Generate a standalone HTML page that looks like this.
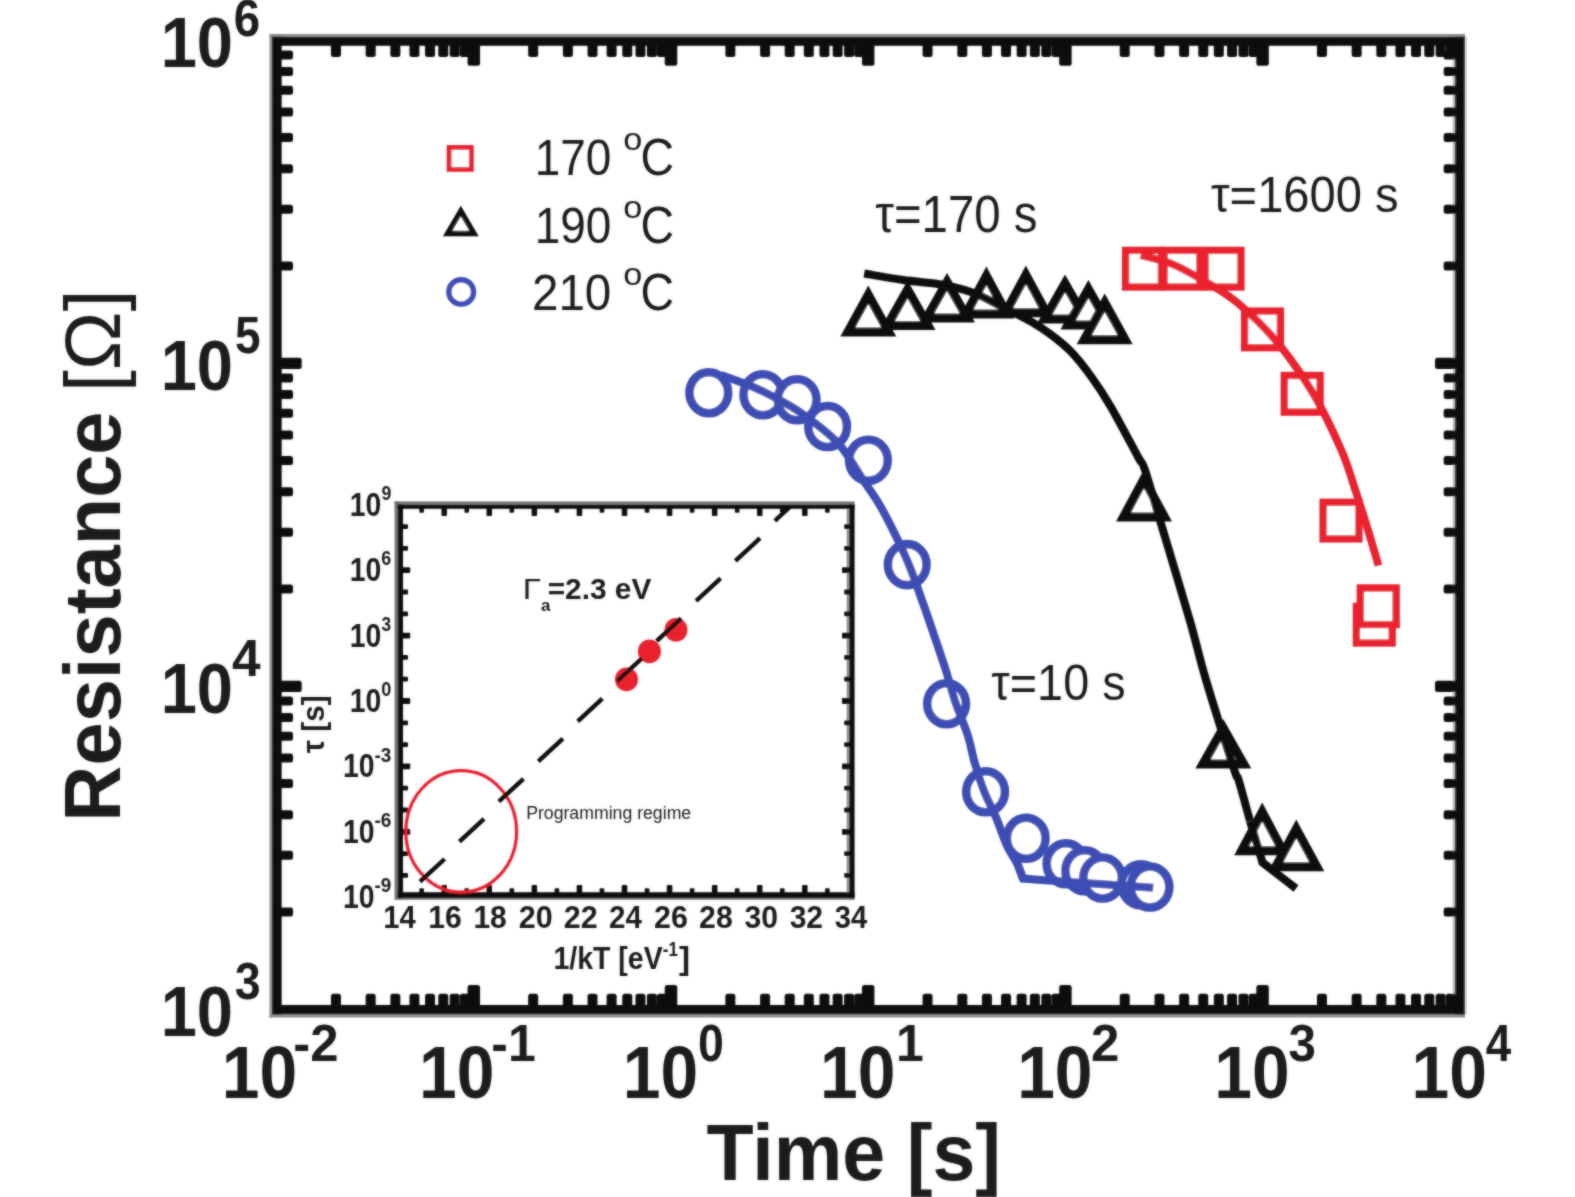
<!DOCTYPE html>
<html lang="en"><head><meta charset="utf-8"><title>Resistance vs time</title>
<style>html,body{margin:0;padding:0;background:#fff}svg{display:block}text{font-family:"Liberation Sans",Arial,Helvetica,sans-serif}</style></head><body>
<svg width="1575" height="1197" viewBox="0 0 1575 1197">
<rect x="0" y="0" width="1575" height="1197" fill="#ffffff"/>
<defs><filter id="soft" x="0" y="0" width="1575" height="1197" filterUnits="userSpaceOnUse"><feGaussianBlur in="SourceGraphic" stdDeviation="1" result="b"/><feComposite in="SourceGraphic" in2="b" operator="arithmetic" k1="0" k2="0.45" k3="0.55" k4="0"/></filter></defs>
<g filter="url(#soft)">
<g id="main-frame">
<rect x="269.5" y="34.2" width="2.5" height="983.3" fill="#8e8e92"/>
<rect x="269.5" y="34" width="1195.5" height="2.7" fill="#8e8e92"/>
<rect x="269.5" y="1014.5" width="1195.5" height="3" fill="#8e8e92"/>
<rect x="1452.8" y="45.8" width="2.2" height="959.2" fill="#b4b4b8"/>
<rect x="1465" y="36.7" width="2" height="977.8" fill="#d0d0d2"/>
<rect x="272" y="36.7" width="9.7" height="977.8" fill="#111111"/>
<rect x="1455" y="36.7" width="10" height="977.8" fill="#111111"/>
<rect x="272" y="36.7" width="1193" height="9.1" fill="#111111"/>
<rect x="272" y="1005" width="1193" height="9.5" fill="#111111"/>
<rect x="330.96" y="43.8" width="10" height="13.3" fill="#111111" rx="2.5"/>
<rect x="330.96" y="993.7" width="10" height="13.3" fill="#111111" rx="2.5"/>
<rect x="365.69" y="43.8" width="10" height="13.3" fill="#111111" rx="2.5"/>
<rect x="365.69" y="993.7" width="10" height="13.3" fill="#111111" rx="2.5"/>
<rect x="390.33" y="43.8" width="10" height="13.3" fill="#111111" rx="2.5"/>
<rect x="390.33" y="993.7" width="10" height="13.3" fill="#111111" rx="2.5"/>
<rect x="409.44" y="43.8" width="10" height="13.3" fill="#111111" rx="2.5"/>
<rect x="409.44" y="993.7" width="10" height="13.3" fill="#111111" rx="2.5"/>
<rect x="425.05" y="43.8" width="10" height="13.3" fill="#111111" rx="2.5"/>
<rect x="425.05" y="993.7" width="10" height="13.3" fill="#111111" rx="2.5"/>
<rect x="438.25" y="43.8" width="10" height="13.3" fill="#111111" rx="2.5"/>
<rect x="438.25" y="993.7" width="10" height="13.3" fill="#111111" rx="2.5"/>
<rect x="449.69" y="43.8" width="10" height="13.3" fill="#111111" rx="2.5"/>
<rect x="449.69" y="993.7" width="10" height="13.3" fill="#111111" rx="2.5"/>
<rect x="459.78" y="43.8" width="10" height="13.3" fill="#111111" rx="2.5"/>
<rect x="459.78" y="993.7" width="10" height="13.3" fill="#111111" rx="2.5"/>
<rect x="467.55" y="43.8" width="12.5" height="22" fill="#111111" rx="2.5"/>
<rect x="467.55" y="985" width="12.5" height="22" fill="#111111" rx="2.5"/>
<rect x="528.16" y="43.8" width="10" height="13.3" fill="#111111" rx="2.5"/>
<rect x="528.16" y="993.7" width="10" height="13.3" fill="#111111" rx="2.5"/>
<rect x="562.89" y="43.8" width="10" height="13.3" fill="#111111" rx="2.5"/>
<rect x="562.89" y="993.7" width="10" height="13.3" fill="#111111" rx="2.5"/>
<rect x="587.53" y="43.8" width="10" height="13.3" fill="#111111" rx="2.5"/>
<rect x="587.53" y="993.7" width="10" height="13.3" fill="#111111" rx="2.5"/>
<rect x="606.64" y="43.8" width="10" height="13.3" fill="#111111" rx="2.5"/>
<rect x="606.64" y="993.7" width="10" height="13.3" fill="#111111" rx="2.5"/>
<rect x="622.25" y="43.8" width="10" height="13.3" fill="#111111" rx="2.5"/>
<rect x="622.25" y="993.7" width="10" height="13.3" fill="#111111" rx="2.5"/>
<rect x="635.45" y="43.8" width="10" height="13.3" fill="#111111" rx="2.5"/>
<rect x="635.45" y="993.7" width="10" height="13.3" fill="#111111" rx="2.5"/>
<rect x="646.89" y="43.8" width="10" height="13.3" fill="#111111" rx="2.5"/>
<rect x="646.89" y="993.7" width="10" height="13.3" fill="#111111" rx="2.5"/>
<rect x="656.98" y="43.8" width="10" height="13.3" fill="#111111" rx="2.5"/>
<rect x="656.98" y="993.7" width="10" height="13.3" fill="#111111" rx="2.5"/>
<rect x="664.75" y="43.8" width="12.5" height="22" fill="#111111" rx="2.5"/>
<rect x="664.75" y="985" width="12.5" height="22" fill="#111111" rx="2.5"/>
<rect x="725.36" y="43.8" width="10" height="13.3" fill="#111111" rx="2.5"/>
<rect x="725.36" y="993.7" width="10" height="13.3" fill="#111111" rx="2.5"/>
<rect x="760.09" y="43.8" width="10" height="13.3" fill="#111111" rx="2.5"/>
<rect x="760.09" y="993.7" width="10" height="13.3" fill="#111111" rx="2.5"/>
<rect x="784.73" y="43.8" width="10" height="13.3" fill="#111111" rx="2.5"/>
<rect x="784.73" y="993.7" width="10" height="13.3" fill="#111111" rx="2.5"/>
<rect x="803.84" y="43.8" width="10" height="13.3" fill="#111111" rx="2.5"/>
<rect x="803.84" y="993.7" width="10" height="13.3" fill="#111111" rx="2.5"/>
<rect x="819.45" y="43.8" width="10" height="13.3" fill="#111111" rx="2.5"/>
<rect x="819.45" y="993.7" width="10" height="13.3" fill="#111111" rx="2.5"/>
<rect x="832.65" y="43.8" width="10" height="13.3" fill="#111111" rx="2.5"/>
<rect x="832.65" y="993.7" width="10" height="13.3" fill="#111111" rx="2.5"/>
<rect x="844.09" y="43.8" width="10" height="13.3" fill="#111111" rx="2.5"/>
<rect x="844.09" y="993.7" width="10" height="13.3" fill="#111111" rx="2.5"/>
<rect x="854.18" y="43.8" width="10" height="13.3" fill="#111111" rx="2.5"/>
<rect x="854.18" y="993.7" width="10" height="13.3" fill="#111111" rx="2.5"/>
<rect x="861.95" y="43.8" width="12.5" height="22" fill="#111111" rx="2.5"/>
<rect x="861.95" y="985" width="12.5" height="22" fill="#111111" rx="2.5"/>
<rect x="922.56" y="43.8" width="10" height="13.3" fill="#111111" rx="2.5"/>
<rect x="922.56" y="993.7" width="10" height="13.3" fill="#111111" rx="2.5"/>
<rect x="957.29" y="43.8" width="10" height="13.3" fill="#111111" rx="2.5"/>
<rect x="957.29" y="993.7" width="10" height="13.3" fill="#111111" rx="2.5"/>
<rect x="981.93" y="43.8" width="10" height="13.3" fill="#111111" rx="2.5"/>
<rect x="981.93" y="993.7" width="10" height="13.3" fill="#111111" rx="2.5"/>
<rect x="1001.04" y="43.8" width="10" height="13.3" fill="#111111" rx="2.5"/>
<rect x="1001.04" y="993.7" width="10" height="13.3" fill="#111111" rx="2.5"/>
<rect x="1016.65" y="43.8" width="10" height="13.3" fill="#111111" rx="2.5"/>
<rect x="1016.65" y="993.7" width="10" height="13.3" fill="#111111" rx="2.5"/>
<rect x="1029.85" y="43.8" width="10" height="13.3" fill="#111111" rx="2.5"/>
<rect x="1029.85" y="993.7" width="10" height="13.3" fill="#111111" rx="2.5"/>
<rect x="1041.29" y="43.8" width="10" height="13.3" fill="#111111" rx="2.5"/>
<rect x="1041.29" y="993.7" width="10" height="13.3" fill="#111111" rx="2.5"/>
<rect x="1051.38" y="43.8" width="10" height="13.3" fill="#111111" rx="2.5"/>
<rect x="1051.38" y="993.7" width="10" height="13.3" fill="#111111" rx="2.5"/>
<rect x="1059.15" y="43.8" width="12.5" height="22" fill="#111111" rx="2.5"/>
<rect x="1059.15" y="985" width="12.5" height="22" fill="#111111" rx="2.5"/>
<rect x="1119.76" y="43.8" width="10" height="13.3" fill="#111111" rx="2.5"/>
<rect x="1119.76" y="993.7" width="10" height="13.3" fill="#111111" rx="2.5"/>
<rect x="1154.49" y="43.8" width="10" height="13.3" fill="#111111" rx="2.5"/>
<rect x="1154.49" y="993.7" width="10" height="13.3" fill="#111111" rx="2.5"/>
<rect x="1179.13" y="43.8" width="10" height="13.3" fill="#111111" rx="2.5"/>
<rect x="1179.13" y="993.7" width="10" height="13.3" fill="#111111" rx="2.5"/>
<rect x="1198.24" y="43.8" width="10" height="13.3" fill="#111111" rx="2.5"/>
<rect x="1198.24" y="993.7" width="10" height="13.3" fill="#111111" rx="2.5"/>
<rect x="1213.85" y="43.8" width="10" height="13.3" fill="#111111" rx="2.5"/>
<rect x="1213.85" y="993.7" width="10" height="13.3" fill="#111111" rx="2.5"/>
<rect x="1227.05" y="43.8" width="10" height="13.3" fill="#111111" rx="2.5"/>
<rect x="1227.05" y="993.7" width="10" height="13.3" fill="#111111" rx="2.5"/>
<rect x="1238.49" y="43.8" width="10" height="13.3" fill="#111111" rx="2.5"/>
<rect x="1238.49" y="993.7" width="10" height="13.3" fill="#111111" rx="2.5"/>
<rect x="1248.58" y="43.8" width="10" height="13.3" fill="#111111" rx="2.5"/>
<rect x="1248.58" y="993.7" width="10" height="13.3" fill="#111111" rx="2.5"/>
<rect x="1256.35" y="43.8" width="12.5" height="22" fill="#111111" rx="2.5"/>
<rect x="1256.35" y="985" width="12.5" height="22" fill="#111111" rx="2.5"/>
<rect x="1316.96" y="43.8" width="10" height="13.3" fill="#111111" rx="2.5"/>
<rect x="1316.96" y="993.7" width="10" height="13.3" fill="#111111" rx="2.5"/>
<rect x="1351.69" y="43.8" width="10" height="13.3" fill="#111111" rx="2.5"/>
<rect x="1351.69" y="993.7" width="10" height="13.3" fill="#111111" rx="2.5"/>
<rect x="1376.33" y="43.8" width="10" height="13.3" fill="#111111" rx="2.5"/>
<rect x="1376.33" y="993.7" width="10" height="13.3" fill="#111111" rx="2.5"/>
<rect x="1395.44" y="43.8" width="10" height="13.3" fill="#111111" rx="2.5"/>
<rect x="1395.44" y="993.7" width="10" height="13.3" fill="#111111" rx="2.5"/>
<rect x="1411.05" y="43.8" width="10" height="13.3" fill="#111111" rx="2.5"/>
<rect x="1411.05" y="993.7" width="10" height="13.3" fill="#111111" rx="2.5"/>
<rect x="1424.25" y="43.8" width="10" height="13.3" fill="#111111" rx="2.5"/>
<rect x="1424.25" y="993.7" width="10" height="13.3" fill="#111111" rx="2.5"/>
<rect x="1435.69" y="43.8" width="10" height="13.3" fill="#111111" rx="2.5"/>
<rect x="1435.69" y="993.7" width="10" height="13.3" fill="#111111" rx="2.5"/>
<rect x="1445.78" y="43.8" width="10" height="13.3" fill="#111111" rx="2.5"/>
<rect x="1445.78" y="993.7" width="10" height="13.3" fill="#111111" rx="2.5"/>
<rect x="279.7" y="907.57" width="13.3" height="9" fill="#111111" rx="2.5"/>
<rect x="1443.7" y="907.57" width="13.3" height="9" fill="#111111" rx="2.5"/>
<rect x="279.7" y="850.69" width="13.3" height="9" fill="#111111" rx="2.5"/>
<rect x="1443.7" y="850.69" width="13.3" height="9" fill="#111111" rx="2.5"/>
<rect x="279.7" y="810.33" width="13.3" height="9" fill="#111111" rx="2.5"/>
<rect x="1443.7" y="810.33" width="13.3" height="9" fill="#111111" rx="2.5"/>
<rect x="279.7" y="779.03" width="13.3" height="9" fill="#111111" rx="2.5"/>
<rect x="1443.7" y="779.03" width="13.3" height="9" fill="#111111" rx="2.5"/>
<rect x="279.7" y="753.46" width="13.3" height="9" fill="#111111" rx="2.5"/>
<rect x="1443.7" y="753.46" width="13.3" height="9" fill="#111111" rx="2.5"/>
<rect x="279.7" y="731.83" width="13.3" height="9" fill="#111111" rx="2.5"/>
<rect x="1443.7" y="731.83" width="13.3" height="9" fill="#111111" rx="2.5"/>
<rect x="279.7" y="713.1" width="13.3" height="9" fill="#111111" rx="2.5"/>
<rect x="1443.7" y="713.1" width="13.3" height="9" fill="#111111" rx="2.5"/>
<rect x="279.7" y="696.58" width="13.3" height="9" fill="#111111" rx="2.5"/>
<rect x="1443.7" y="696.58" width="13.3" height="9" fill="#111111" rx="2.5"/>
<rect x="279.7" y="680.7" width="22" height="11.2" fill="#111111" rx="2.5"/>
<rect x="1435" y="680.7" width="22" height="11.2" fill="#111111" rx="2.5"/>
<rect x="279.7" y="584.57" width="13.3" height="9" fill="#111111" rx="2.5"/>
<rect x="1443.7" y="584.57" width="13.3" height="9" fill="#111111" rx="2.5"/>
<rect x="279.7" y="527.69" width="13.3" height="9" fill="#111111" rx="2.5"/>
<rect x="1443.7" y="527.69" width="13.3" height="9" fill="#111111" rx="2.5"/>
<rect x="279.7" y="487.33" width="13.3" height="9" fill="#111111" rx="2.5"/>
<rect x="1443.7" y="487.33" width="13.3" height="9" fill="#111111" rx="2.5"/>
<rect x="279.7" y="456.03" width="13.3" height="9" fill="#111111" rx="2.5"/>
<rect x="1443.7" y="456.03" width="13.3" height="9" fill="#111111" rx="2.5"/>
<rect x="279.7" y="430.46" width="13.3" height="9" fill="#111111" rx="2.5"/>
<rect x="1443.7" y="430.46" width="13.3" height="9" fill="#111111" rx="2.5"/>
<rect x="279.7" y="408.83" width="13.3" height="9" fill="#111111" rx="2.5"/>
<rect x="1443.7" y="408.83" width="13.3" height="9" fill="#111111" rx="2.5"/>
<rect x="279.7" y="390.1" width="13.3" height="9" fill="#111111" rx="2.5"/>
<rect x="1443.7" y="390.1" width="13.3" height="9" fill="#111111" rx="2.5"/>
<rect x="279.7" y="373.58" width="13.3" height="9" fill="#111111" rx="2.5"/>
<rect x="1443.7" y="373.58" width="13.3" height="9" fill="#111111" rx="2.5"/>
<rect x="279.7" y="357.7" width="22" height="11.2" fill="#111111" rx="2.5"/>
<rect x="1435" y="357.7" width="22" height="11.2" fill="#111111" rx="2.5"/>
<rect x="279.7" y="261.57" width="13.3" height="9" fill="#111111" rx="2.5"/>
<rect x="1443.7" y="261.57" width="13.3" height="9" fill="#111111" rx="2.5"/>
<rect x="279.7" y="204.69" width="13.3" height="9" fill="#111111" rx="2.5"/>
<rect x="1443.7" y="204.69" width="13.3" height="9" fill="#111111" rx="2.5"/>
<rect x="279.7" y="164.33" width="13.3" height="9" fill="#111111" rx="2.5"/>
<rect x="1443.7" y="164.33" width="13.3" height="9" fill="#111111" rx="2.5"/>
<rect x="279.7" y="133.03" width="13.3" height="9" fill="#111111" rx="2.5"/>
<rect x="1443.7" y="133.03" width="13.3" height="9" fill="#111111" rx="2.5"/>
<rect x="279.7" y="107.46" width="13.3" height="9" fill="#111111" rx="2.5"/>
<rect x="1443.7" y="107.46" width="13.3" height="9" fill="#111111" rx="2.5"/>
<rect x="279.7" y="85.83" width="13.3" height="9" fill="#111111" rx="2.5"/>
<rect x="1443.7" y="85.83" width="13.3" height="9" fill="#111111" rx="2.5"/>
<rect x="279.7" y="67.1" width="13.3" height="9" fill="#111111" rx="2.5"/>
<rect x="1443.7" y="67.1" width="13.3" height="9" fill="#111111" rx="2.5"/>
<rect x="279.7" y="50.58" width="13.3" height="9" fill="#111111" rx="2.5"/>
<rect x="1443.7" y="50.58" width="13.3" height="9" fill="#111111" rx="2.5"/>
</g>
<g id="main-labels">
<text transform="translate(221.76 1098) scale(0.9193 1)" font-size="73.75" font-weight="bold" fill="#1a1a1a">10</text>
<text transform="translate(293.27 1061.2) scale(0.9667 1)" font-size="52.62" font-weight="bold" fill="#1a1a1a">-2</text>
<text transform="translate(418.96 1098) scale(0.9193 1)" font-size="73.75" font-weight="bold" fill="#1a1a1a">10</text>
<text transform="translate(491.3 1061.2) scale(0.9500 1)" font-size="52.62" font-weight="bold" fill="#1a1a1a">-1</text>
<text transform="translate(622.76 1098) scale(0.9193 1)" font-size="73.75" font-weight="bold" fill="#1a1a1a">10</text>
<text transform="translate(697.94 1061.2) scale(0.8843 1)" font-size="52.62" font-weight="bold" fill="#1a1a1a">0</text>
<text transform="translate(819.96 1098) scale(0.9193 1)" font-size="73.75" font-weight="bold" fill="#1a1a1a">10</text>
<text transform="translate(895.88 1061.2) scale(0.9500 1)" font-size="52.62" font-weight="bold" fill="#1a1a1a">1</text>
<text transform="translate(1017.16 1098) scale(0.9193 1)" font-size="73.75" font-weight="bold" fill="#1a1a1a">10</text>
<text transform="translate(1091.02 1061.2) scale(0.9690 1)" font-size="52.62" font-weight="bold" fill="#1a1a1a">2</text>
<text transform="translate(1214.36 1098) scale(0.9193 1)" font-size="73.75" font-weight="bold" fill="#1a1a1a">10</text>
<text transform="translate(1288.59 1061.2) scale(0.9398 1)" font-size="52.62" font-weight="bold" fill="#1a1a1a">3</text>
<text transform="translate(1411.56 1098) scale(0.9193 1)" font-size="73.75" font-weight="bold" fill="#1a1a1a">10</text>
<text transform="translate(1485.81 1061.2) scale(0.8703 1)" font-size="52.62" font-weight="bold" fill="#1a1a1a">4</text>
<text transform="translate(160.63 66.8) scale(0.9182 1)" font-size="70.91" font-weight="bold" fill="#1a1a1a">10</text>
<text transform="translate(233.72 36.1) scale(0.9221 1)" font-size="51.47" font-weight="bold" fill="#1a1a1a">6</text>
<text transform="translate(160.63 389.8) scale(0.9182 1)" font-size="70.91" font-weight="bold" fill="#1a1a1a">10</text>
<text transform="translate(235.03 352.8) scale(0.8879 1)" font-size="51.61" font-weight="bold" fill="#1a1a1a">5</text>
<text transform="translate(160.63 712.8) scale(0.9182 1)" font-size="70.91" font-weight="bold" fill="#1a1a1a">10</text>
<text transform="translate(232.03 675.8) scale(0.9959 1)" font-size="51.61" font-weight="bold" fill="#1a1a1a">4</text>
<text transform="translate(160.63 1035.8) scale(0.9182 1)" font-size="70.91" font-weight="bold" fill="#1a1a1a">10</text>
<text transform="translate(234.75 998.8) scale(0.9035 1)" font-size="51.61" font-weight="bold" fill="#1a1a1a">3</text>
<text transform="translate(706.53 1179.5) scale(0.9721 1)" font-size="79.42" font-weight="bold" fill="#1a1a1a">Time [s]</text>
<text transform="translate(120.2 821.64) rotate(-90) scale(0.9854 1)" font-size="78.84" font-weight="bold" fill="#1a1a1a">Resistance</text>
<text transform="translate(120.2 392.01) rotate(-90) scale(1.0118 1)" font-size="77.79" font-weight="normal" fill="#1a1a1a">[&#937;]</text>
</g>
<g id="legend">
<rect x="449.1" y="147.5" width="22.2" height="21.9" fill="#ffffff" stroke="#e9212f" stroke-width="4.8"/>
<polygon points="460.8,211.13 473.9,233.45 447.7,233.45" fill="#ffffff" stroke="#111111" stroke-width="5.5" stroke-linejoin="miter"/>
<ellipse cx="461.2" cy="291.9" rx="12.3" ry="12.2" fill="#ffffff" stroke="#3c4db4" stroke-width="5.4"/>
<text transform="translate(534.66 175.2) scale(0.9124 1)" font-size="50.33" font-weight="normal" fill="#1a1a1a">170</text>
<text transform="translate(623.34 150.2) scale(1.0904 1)" font-size="31.44" font-weight="normal" fill="#1a1a1a">o</text>
<text transform="translate(640.58 175.2) scale(0.9102 1)" font-size="51.04" font-weight="normal" fill="#1a1a1a">C</text>
<text transform="translate(534.66 242.9) scale(0.9124 1)" font-size="50.33" font-weight="normal" fill="#1a1a1a">190</text>
<text transform="translate(623.34 217.9) scale(1.0904 1)" font-size="31.44" font-weight="normal" fill="#1a1a1a">o</text>
<text transform="translate(640.58 242.9) scale(0.9102 1)" font-size="51.04" font-weight="normal" fill="#1a1a1a">C</text>
<text transform="translate(531.92 309.5) scale(0.9457 1)" font-size="50.33" font-weight="normal" fill="#1a1a1a">210</text>
<text transform="translate(623.34 284.5) scale(1.0904 1)" font-size="31.44" font-weight="normal" fill="#1a1a1a">o</text>
<text transform="translate(640.58 309.5) scale(0.9102 1)" font-size="51.04" font-weight="normal" fill="#1a1a1a">C</text>
</g>
<g id="series-210">
<ellipse cx="708.8" cy="392.7" rx="19.3" ry="20.5" fill="#ffffff" stroke="#3c4db4" stroke-width="8.6"/>
<ellipse cx="762.9" cy="394.8" rx="19.3" ry="20.5" fill="#ffffff" stroke="#3c4db4" stroke-width="8.6"/>
<ellipse cx="797.1" cy="399.8" rx="19.3" ry="20.5" fill="#ffffff" stroke="#3c4db4" stroke-width="8.6"/>
<ellipse cx="827.6" cy="426.5" rx="19.3" ry="20.5" fill="#ffffff" stroke="#3c4db4" stroke-width="8.6"/>
<ellipse cx="868.4" cy="460.2" rx="19.3" ry="20.5" fill="#ffffff" stroke="#3c4db4" stroke-width="8.6"/>
<ellipse cx="907.2" cy="564.6" rx="19.3" ry="20.5" fill="#ffffff" stroke="#3c4db4" stroke-width="8.6"/>
<ellipse cx="946.6" cy="703.7" rx="19.3" ry="20.5" fill="#ffffff" stroke="#3c4db4" stroke-width="8.6"/>
<ellipse cx="985.6" cy="791.7" rx="19.3" ry="20.5" fill="#ffffff" stroke="#3c4db4" stroke-width="8.6"/>
<ellipse cx="1026.2" cy="838.3" rx="19.3" ry="20.5" fill="#ffffff" stroke="#3c4db4" stroke-width="8.6"/>
<ellipse cx="1066" cy="863.7" rx="19.3" ry="20.5" fill="#ffffff" stroke="#3c4db4" stroke-width="8.6"/>
<ellipse cx="1084.7" cy="870.7" rx="19.3" ry="20.5" fill="#ffffff" stroke="#3c4db4" stroke-width="8.6"/>
<ellipse cx="1102.6" cy="878" rx="19.3" ry="20.5" fill="#ffffff" stroke="#3c4db4" stroke-width="8.6"/>
<ellipse cx="1140.9" cy="884.8" rx="19.3" ry="20.5" fill="#ffffff" stroke="#3c4db4" stroke-width="8.6"/>
<ellipse cx="1150" cy="887" rx="19.3" ry="20.5" fill="#ffffff" stroke="#3c4db4" stroke-width="8.6"/>
<path d="M721 375 C726.17 376.92 743.5 383 752 386.5 C760.5 390 763.67 391.5 772 396 C780.33 400.5 791 405.67 802 413.5 C813 421.33 827.62 431.62 838 443 C848.38 454.38 857.5 471.72 864.3 481.8 C871.1 491.88 874.15 495.7 878.8 503.5 C883.45 511.3 887.25 518.58 892.2 528.6 C897.15 538.62 903.33 551.08 908.5 563.6 C913.67 576.12 918.63 590.87 923.2 603.7 C927.77 616.53 932.08 629.37 935.9 640.6 C939.72 651.83 942.88 660.93 946.1 671.1 C949.32 681.27 951.6 690.93 955.2 701.6 C958.8 712.27 964.45 724.92 967.7 735.1 C970.95 745.28 972.03 753.5 974.7 762.7 C977.37 771.9 980.12 781.1 983.7 790.3 C987.28 799.5 992.35 808.72 996.2 817.9 C1000.05 827.08 1003.28 837.75 1006.8 845.4 C1010.32 853.05 1014.6 858.27 1017.3 863.8 C1020 869.33 1022.05 876.13 1023 878.6" fill="none" stroke="#3c4db4" stroke-width="8" stroke-linejoin="round"/>
<path d="M1017.3 863.8 L1023 878.6 L1153.2 887.8" fill="none" stroke="#3c4db4" stroke-width="8" stroke-linejoin="miter"/>
</g>
<g id="series-190">
<polygon points="868.3,294.92 888.68,331.9 847.92,331.9" fill="#ffffff" stroke="#111111" stroke-width="9" stroke-linejoin="miter"/>
<polygon points="907.6,289.64 927.88,325.5 887.32,325.5" fill="#ffffff" stroke="#111111" stroke-width="9" stroke-linejoin="miter"/>
<polygon points="947,282.04 967.28,317.9 926.72,317.9" fill="#ffffff" stroke="#111111" stroke-width="9" stroke-linejoin="miter"/>
<polygon points="986.4,276.01 1006.87,314.1 965.93,314.1" fill="#ffffff" stroke="#111111" stroke-width="9" stroke-linejoin="miter"/>
<polygon points="1025.9,275.05 1046.35,312.8 1005.45,312.8" fill="#ffffff" stroke="#111111" stroke-width="9" stroke-linejoin="miter"/>
<polygon points="1065,283.48 1085.25,319 1044.75,319" fill="#ffffff" stroke="#111111" stroke-width="9" stroke-linejoin="miter"/>
<polygon points="1088.4,289.23 1108.68,325 1068.12,325" fill="#ffffff" stroke="#111111" stroke-width="9" stroke-linejoin="miter"/>
<polygon points="1104.7,302.72 1125.08,339.7 1084.32,339.7" fill="#ffffff" stroke="#111111" stroke-width="9" stroke-linejoin="miter"/>
<polygon points="1144,479.01 1164.47,517.1 1123.53,517.1" fill="#ffffff" stroke="#111111" stroke-width="9" stroke-linejoin="miter"/>
<polygon points="1223.3,728.15 1243.59,764.1 1203.01,764.1" fill="#ffffff" stroke="#111111" stroke-width="9" stroke-linejoin="miter"/>
<polygon points="1262.2,812.18 1282.71,850.7 1241.69,850.7" fill="#ffffff" stroke="#111111" stroke-width="9" stroke-linejoin="miter"/>
<polygon points="1296.3,829.05 1316.75,866.8 1275.85,866.8" fill="#ffffff" stroke="#111111" stroke-width="9" stroke-linejoin="miter"/>
<path d="M864.2 273.5 C870.72 274.58 890.43 278.17 903.3 280 C916.17 281.83 929.88 282.42 941.4 284.5 C952.92 286.58 963 289.15 972.4 292.5 C981.8 295.85 988.12 299.8 997.8 304.6 C1007.48 309.4 1021.67 316.32 1030.5 321.3 C1039.33 326.28 1044.03 329.42 1050.8 334.5 C1057.57 339.58 1064.32 344.72 1071.1 351.8 C1077.88 358.88 1084.93 367.93 1091.5 377 C1098.07 386.07 1102.73 392.87 1110.5 406.2 C1118.27 419.53 1132.35 446.37 1138.1 457 C1143.85 467.63 1141.02 458.33 1145 470 C1148.98 481.67 1154.5 501.83 1162 527 C1169.5 552.17 1182.67 595.5 1190 621 C1197.33 646.5 1198.67 655.33 1206 680 C1213.33 704.67 1228.57 752.33 1234 769 C1239.43 785.67 1235.93 771.33 1238.6 780 C1241.27 788.67 1248.1 814.17 1250 821" fill="none" stroke="#111111" stroke-width="8" stroke-linejoin="round"/>
<path d="M1250 821 L1262.5 862.5 L1296 888.5" fill="none" stroke="#111111" stroke-width="8" stroke-linejoin="miter"/>
</g>
<g id="series-170">
<rect x="1125.6" y="250.4" width="35.8" height="36.6" fill="#ffffff" stroke="#e9212f" stroke-width="7.3"/>
<rect x="1164.1" y="250.4" width="35.8" height="36.6" fill="#ffffff" stroke="#e9212f" stroke-width="7.3"/>
<rect x="1205.1" y="250.4" width="35.8" height="36.6" fill="#ffffff" stroke="#e9212f" stroke-width="7.3"/>
<rect x="1244.6" y="311.1" width="35.8" height="36.6" fill="#ffffff" stroke="#e9212f" stroke-width="7.3"/>
<rect x="1284.3" y="375.5" width="35.8" height="36.6" fill="#ffffff" stroke="#e9212f" stroke-width="7.3"/>
<rect x="1323.1" y="502.3" width="35.8" height="36.6" fill="#ffffff" stroke="#e9212f" stroke-width="7.3"/>
<rect x="1356.4" y="606.4" width="35.8" height="36.6" fill="#ffffff" stroke="#e9212f" stroke-width="7.3"/>
<rect x="1360.3" y="588" width="35.8" height="36.6" fill="#ffffff" stroke="#e9212f" stroke-width="7.3"/>
<path d="M1140.6 255.4 C1145.83 256.83 1161.83 259.98 1172 264 C1182.17 268.02 1190.77 273.1 1201.6 279.5 C1212.43 285.9 1224.3 291.82 1237 302.4 C1249.7 312.98 1265.08 327.77 1277.8 343 C1290.52 358.23 1302.72 375.97 1313.3 393.8 C1323.88 411.63 1334.35 434.13 1341.3 450 C1348.25 465.87 1350.55 475.67 1355 489 C1359.45 502.33 1364.08 517.25 1368 530 C1371.92 542.75 1376.75 559.58 1378.5 565.5" fill="none" stroke="#e9212f" stroke-width="7.7" stroke-linejoin="round"/>
</g>
<g id="annotations">
<text transform="translate(875.19 232.2) scale(0.9312 1)" font-size="50.91" font-weight="normal" fill="#1a1a1a">&#964;=170 s</text>
<text transform="translate(1210.99 212.2) scale(0.9341 1)" font-size="50.47" font-weight="normal" fill="#1a1a1a">&#964;=1600 s</text>
<text transform="translate(991.3 700) scale(0.9410 1)" font-size="49.75" font-weight="normal" fill="#1a1a1a">&#964;=10 s</text>
</g>
<g id="inset">
<rect x="394.6" y="501.5" width="3" height="398.5" fill="#707074"/>
<rect x="394.6" y="501.5" width="460" height="3" fill="#707074"/>
<rect x="394.6" y="898.4" width="460" height="1.6" fill="#8e8e92"/>
<rect x="846.7" y="508.8" width="2.5" height="383.4" fill="#8e8e92"/>
<rect x="397.6" y="504.5" width="5.4" height="393.9" fill="#111111"/>
<rect x="849.2" y="504.5" width="5.4" height="393.9" fill="#111111"/>
<rect x="397.6" y="504.5" width="457" height="4.3" fill="#111111"/>
<rect x="397.6" y="892.2" width="457" height="6.2" fill="#111111"/>
<rect x="419.34" y="507.8" width="4.6" height="5" fill="#111111" rx="1"/>
<rect x="419.34" y="888.2" width="4.6" height="5" fill="#111111" rx="1"/>
<rect x="441.43" y="507.8" width="5.5" height="8.2" fill="#111111" rx="1"/>
<rect x="441.43" y="885" width="5.5" height="8.2" fill="#111111" rx="1"/>
<rect x="464.42" y="507.8" width="4.6" height="5" fill="#111111" rx="1"/>
<rect x="464.42" y="888.2" width="4.6" height="5" fill="#111111" rx="1"/>
<rect x="486.51" y="507.8" width="5.5" height="8.2" fill="#111111" rx="1"/>
<rect x="486.51" y="885" width="5.5" height="8.2" fill="#111111" rx="1"/>
<rect x="509.5" y="507.8" width="4.6" height="5" fill="#111111" rx="1"/>
<rect x="509.5" y="888.2" width="4.6" height="5" fill="#111111" rx="1"/>
<rect x="531.59" y="507.8" width="5.5" height="8.2" fill="#111111" rx="1"/>
<rect x="531.59" y="885" width="5.5" height="8.2" fill="#111111" rx="1"/>
<rect x="554.58" y="507.8" width="4.6" height="5" fill="#111111" rx="1"/>
<rect x="554.58" y="888.2" width="4.6" height="5" fill="#111111" rx="1"/>
<rect x="576.67" y="507.8" width="5.5" height="8.2" fill="#111111" rx="1"/>
<rect x="576.67" y="885" width="5.5" height="8.2" fill="#111111" rx="1"/>
<rect x="599.66" y="507.8" width="4.6" height="5" fill="#111111" rx="1"/>
<rect x="599.66" y="888.2" width="4.6" height="5" fill="#111111" rx="1"/>
<rect x="621.75" y="507.8" width="5.5" height="8.2" fill="#111111" rx="1"/>
<rect x="621.75" y="885" width="5.5" height="8.2" fill="#111111" rx="1"/>
<rect x="644.74" y="507.8" width="4.6" height="5" fill="#111111" rx="1"/>
<rect x="644.74" y="888.2" width="4.6" height="5" fill="#111111" rx="1"/>
<rect x="666.83" y="507.8" width="5.5" height="8.2" fill="#111111" rx="1"/>
<rect x="666.83" y="885" width="5.5" height="8.2" fill="#111111" rx="1"/>
<rect x="689.82" y="507.8" width="4.6" height="5" fill="#111111" rx="1"/>
<rect x="689.82" y="888.2" width="4.6" height="5" fill="#111111" rx="1"/>
<rect x="711.91" y="507.8" width="5.5" height="8.2" fill="#111111" rx="1"/>
<rect x="711.91" y="885" width="5.5" height="8.2" fill="#111111" rx="1"/>
<rect x="734.9" y="507.8" width="4.6" height="5" fill="#111111" rx="1"/>
<rect x="734.9" y="888.2" width="4.6" height="5" fill="#111111" rx="1"/>
<rect x="756.99" y="507.8" width="5.5" height="8.2" fill="#111111" rx="1"/>
<rect x="756.99" y="885" width="5.5" height="8.2" fill="#111111" rx="1"/>
<rect x="779.98" y="507.8" width="4.6" height="5" fill="#111111" rx="1"/>
<rect x="779.98" y="888.2" width="4.6" height="5" fill="#111111" rx="1"/>
<rect x="802.07" y="507.8" width="5.5" height="8.2" fill="#111111" rx="1"/>
<rect x="802.07" y="885" width="5.5" height="8.2" fill="#111111" rx="1"/>
<rect x="825.06" y="507.8" width="4.6" height="5" fill="#111111" rx="1"/>
<rect x="825.06" y="888.2" width="4.6" height="5" fill="#111111" rx="1"/>
<rect x="402" y="873" width="6" height="4.8" fill="#111111" rx="1"/>
<rect x="844.2" y="873" width="6" height="4.8" fill="#111111" rx="1"/>
<rect x="402" y="851.2" width="6" height="4.8" fill="#111111" rx="1"/>
<rect x="844.2" y="851.2" width="6" height="4.8" fill="#111111" rx="1"/>
<rect x="402" y="828.9" width="8.2" height="5.8" fill="#111111" rx="1"/>
<rect x="842" y="828.9" width="8.2" height="5.8" fill="#111111" rx="1"/>
<rect x="402" y="807.6" width="6" height="4.8" fill="#111111" rx="1"/>
<rect x="844.2" y="807.6" width="6" height="4.8" fill="#111111" rx="1"/>
<rect x="402" y="785.8" width="6" height="4.8" fill="#111111" rx="1"/>
<rect x="844.2" y="785.8" width="6" height="4.8" fill="#111111" rx="1"/>
<rect x="402" y="763.5" width="8.2" height="5.8" fill="#111111" rx="1"/>
<rect x="842" y="763.5" width="8.2" height="5.8" fill="#111111" rx="1"/>
<rect x="402" y="742.2" width="6" height="4.8" fill="#111111" rx="1"/>
<rect x="844.2" y="742.2" width="6" height="4.8" fill="#111111" rx="1"/>
<rect x="402" y="720.4" width="6" height="4.8" fill="#111111" rx="1"/>
<rect x="844.2" y="720.4" width="6" height="4.8" fill="#111111" rx="1"/>
<rect x="402" y="698.1" width="8.2" height="5.8" fill="#111111" rx="1"/>
<rect x="842" y="698.1" width="8.2" height="5.8" fill="#111111" rx="1"/>
<rect x="402" y="676.8" width="6" height="4.8" fill="#111111" rx="1"/>
<rect x="844.2" y="676.8" width="6" height="4.8" fill="#111111" rx="1"/>
<rect x="402" y="655" width="6" height="4.8" fill="#111111" rx="1"/>
<rect x="844.2" y="655" width="6" height="4.8" fill="#111111" rx="1"/>
<rect x="402" y="632.7" width="8.2" height="5.8" fill="#111111" rx="1"/>
<rect x="842" y="632.7" width="8.2" height="5.8" fill="#111111" rx="1"/>
<rect x="402" y="611.4" width="6" height="4.8" fill="#111111" rx="1"/>
<rect x="844.2" y="611.4" width="6" height="4.8" fill="#111111" rx="1"/>
<rect x="402" y="589.6" width="6" height="4.8" fill="#111111" rx="1"/>
<rect x="844.2" y="589.6" width="6" height="4.8" fill="#111111" rx="1"/>
<rect x="402" y="567.3" width="8.2" height="5.8" fill="#111111" rx="1"/>
<rect x="842" y="567.3" width="8.2" height="5.8" fill="#111111" rx="1"/>
<rect x="402" y="546" width="6" height="4.8" fill="#111111" rx="1"/>
<rect x="844.2" y="546" width="6" height="4.8" fill="#111111" rx="1"/>
<rect x="402" y="524.2" width="6" height="4.8" fill="#111111" rx="1"/>
<rect x="844.2" y="524.2" width="6" height="4.8" fill="#111111" rx="1"/>
<text transform="translate(383.32 927.5) scale(0.9101 1)" font-size="32.15" font-weight="bold" fill="#1a1a1a">14</text>
<text transform="translate(428.35 927.5) scale(0.9371 1)" font-size="32.15" font-weight="bold" fill="#1a1a1a">16</text>
<text transform="translate(473.44 927.5) scale(0.9325 1)" font-size="32.15" font-weight="bold" fill="#1a1a1a">18</text>
<text transform="translate(518.77 927.5) scale(0.9498 1)" font-size="32.15" font-weight="bold" fill="#1a1a1a">20</text>
<text transform="translate(563.85 927.5) scale(0.9475 1)" font-size="32.15" font-weight="bold" fill="#1a1a1a">22</text>
<text transform="translate(608.97 927.5) scale(0.9187 1)" font-size="32.15" font-weight="bold" fill="#1a1a1a">24</text>
<text transform="translate(654.02 927.5) scale(0.9452 1)" font-size="32.15" font-weight="bold" fill="#1a1a1a">26</text>
<text transform="translate(699.1 927.5) scale(0.9407 1)" font-size="32.15" font-weight="bold" fill="#1a1a1a">28</text>
<text transform="translate(744.56 927.5) scale(0.9385 1)" font-size="32.15" font-weight="bold" fill="#1a1a1a">30</text>
<text transform="translate(789.64 927.5) scale(0.9362 1)" font-size="32.15" font-weight="bold" fill="#1a1a1a">32</text>
<text transform="translate(834.74 927.5) scale(0.9081 1)" font-size="32.15" font-weight="bold" fill="#1a1a1a">34</text>
<text transform="translate(349.83 515.8) scale(0.8560 1)" font-size="33.16" font-weight="bold" fill="#1a1a1a">10</text>
<text transform="translate(381.38 500) scale(0.8471 1)" font-size="20.93" font-weight="bold" fill="#1a1a1a">9</text>
<text transform="translate(349.83 581.2) scale(0.8560 1)" font-size="33.16" font-weight="bold" fill="#1a1a1a">10</text>
<text transform="translate(381.33 565.4) scale(0.8515 1)" font-size="20.93" font-weight="bold" fill="#1a1a1a">6</text>
<text transform="translate(349.83 646.6) scale(0.8560 1)" font-size="33.16" font-weight="bold" fill="#1a1a1a">10</text>
<text transform="translate(381.61 630.8) scale(0.8258 1)" font-size="20.93" font-weight="bold" fill="#1a1a1a">3</text>
<text transform="translate(349.83 712) scale(0.8560 1)" font-size="33.16" font-weight="bold" fill="#1a1a1a">10</text>
<text transform="translate(381.28 696.2) scale(0.8650 1)" font-size="20.93" font-weight="bold" fill="#1a1a1a">0</text>
<text transform="translate(343.03 777.4) scale(0.8560 1)" font-size="33.16" font-weight="bold" fill="#1a1a1a">10</text>
<text transform="translate(374.44 761.6) scale(0.9055 1)" font-size="20.93" font-weight="bold" fill="#1a1a1a">-3</text>
<text transform="translate(343.03 842.8) scale(0.8560 1)" font-size="33.16" font-weight="bold" fill="#1a1a1a">10</text>
<text transform="translate(374.44 827) scale(0.9055 1)" font-size="20.93" font-weight="bold" fill="#1a1a1a">-6</text>
<text transform="translate(343.03 908.2) scale(0.8560 1)" font-size="33.16" font-weight="bold" fill="#1a1a1a">10</text>
<text transform="translate(374.44 892.4) scale(0.9055 1)" font-size="20.93" font-weight="bold" fill="#1a1a1a">-9</text>
<text transform="translate(553.42 969.2) scale(0.8906 1)" font-size="32" font-weight="bold" fill="#1a1a1a">1/kT [eV</text>
<text transform="translate(662.82 955.5) scale(0.8506 1)" font-size="20.07" font-weight="bold" fill="#1a1a1a">-1</text>
<text transform="translate(679.08 969.2) scale(1.0377 1)" font-size="32" font-weight="bold" fill="#1a1a1a">]</text>
<text transform="translate(324.3 753.22) rotate(-90) scale(0.9671 1)" font-size="30.76" font-weight="bold" fill="#1a1a1a">&#964; [s]</text>
<ellipse cx="461.2" cy="831.4" rx="55.4" ry="60.7" fill="none" stroke="#e9212f" stroke-width="3.2"/>
<ellipse cx="626.5" cy="679.4" rx="11.5" ry="11.8" fill="#e9212f"/>
<ellipse cx="649.4" cy="651.4" rx="11.5" ry="11.8" fill="#e9212f"/>
<ellipse cx="676" cy="629.8" rx="11.5" ry="11.8" fill="#e9212f"/>
<path d="M420 881.7L444.6 859M459.43 841.6L484.03 818.9M498.86 801.5L523.46 778.8M538.29 761.4L562.89 738.7M577.72 721.3L602.32 698.6M617.15 681.2L641.75 658.5M656.58 641.1L681.18 618.4M696.01 601L720.61 578.3M735.44 560.9L760.04 538.2M774.87 520.8L789.83 507" fill="none" stroke="#111111" stroke-width="4.3"/>
<text transform="translate(522.66 598.7) scale(1.1580 1)" font-size="28.65" font-weight="normal" fill="#1a1a1a">&#915;</text>
<text transform="translate(540.99 611.2) scale(1.0207 1)" font-size="16.56" font-weight="bold" fill="#1a1a1a">a</text>
<text transform="translate(547.63 598.7) scale(1.0355 1)" font-size="28.82" font-weight="bold" fill="#1a1a1a">=2.3 eV</text>
<text transform="translate(526.14 818.5) scale(0.9651 1)" font-size="18.33" font-weight="normal" fill="#1a1a1a">Programming regime</text>
</g>
</g>
</svg></body></html>
